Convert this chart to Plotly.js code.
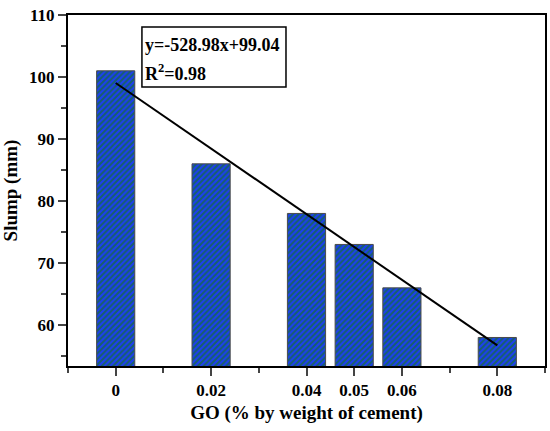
<!DOCTYPE html>
<html>
<head>
<meta charset="utf-8">
<script src="https://cdn.plot.ly/plotly-3.0.1.min.js"></script>
<style>
  body { margin: 0; background: #fff; }
  #myDiv { width: 550px; height: 431px; }
</style>
</head>
<body>
<div id="myDiv"></div>
<script>
let goContent = [0, 0.02, 0.04, 0.05, 0.06, 0.08];
let slump = [101, 86, 78, 73, 66, 58];
let tickLabels = ['0', '0.02', '0.04', '0.05', '0.06', '0.08'];
let fitSlope = -528.98;
let fitIntercept = 99.04;
let fitR2 = 0.98;

let fitX = [goContent[0], goContent[goContent.length - 1]];
let fitY = fitX.map(x => fitSlope * x + fitIntercept);

let bars = {
  x: goContent,
  y: slump,
  type: 'bar',
  width: 0.008,
  marker: {
    color: '#1d3ef4',
    line: {color: '#4a4a4a', width: 1},
    pattern: {shape: '/', bgcolor: '#1d3ef4', fgcolor: '#17606a', size: 4, solidity: 0.5}
  },
  showlegend: false
};
let fit = {
  x: fitX,
  y: fitY,
  type: 'scatter',
  mode: 'lines',
  line: {color: '#000', width: 2},
  showlegend: false
};

let serif = 'Liberation Serif, Times New Roman, serif';
let tickFont = {family: serif, size: 17, color: '#000', weight: 'bold'};
let titleFont = {family: serif, size: 19, color: '#000', weight: 'bold'};
let boxFont = {family: serif, size: 18, color: '#000', weight: 'bold'};

let layout = {
  width: 550,
  height: 431,
  margin: {l: 68, r: 5, t: 15, b: 65},
  paper_bgcolor: '#fff',
  plot_bgcolor: '#fff',
  font: {family: serif, size: 17, color: '#000', weight: 'bold'},
  xaxis: {
    range: [-0.01, 0.09],
    tickmode: 'array',
    tickvals: goContent,
    ticktext: tickLabels,
    tickfont: tickFont,
    ticks: 'outside',
    ticklen: 8,
    tickwidth: 2,
    minor: {tick0: 0, dtick: 0.01, ticks: 'outside', ticklen: 5, tickwidth: 2},
    showline: true,
    linewidth: 2,
    linecolor: '#000',
    mirror: true,
    showgrid: false,
    zeroline: false,
    title: {text: 'GO (% by weight of cement)', font: titleFont, standoff: 6}
  },
  yaxis: {
    range: [53.4, 110],
    dtick: 10,
    tickfont: tickFont,
    ticks: 'outside',
    ticklen: 8,
    tickwidth: 2,
    minor: {dtick: 5, ticks: 'outside', ticklen: 5, tickwidth: 2},
    showline: true,
    linewidth: 2,
    linecolor: '#000',
    mirror: true,
    showgrid: false,
    zeroline: false,
    title: {text: 'Slump (mm)', font: titleFont, standoff: 8}
  },
  shapes: [{
    type: 'rect', xref: 'paper', yref: 'paper',
    x0: 0.155, x1: 0.457, y0: 0.795, y1: 0.966,
    line: {color: '#000', width: 1.5}
  }],
  annotations: [
    {xref: 'paper', yref: 'paper', x: 0.158, y: 0.915, xanchor: 'left', yanchor: 'middle',
     showarrow: false, text: 'y=' + fitSlope + 'x+' + fitIntercept, font: boxFont},
    {xref: 'paper', yref: 'paper', x: 0.158, y: 0.836, xanchor: 'left', yanchor: 'middle',
     showarrow: false, text: 'R<sup>2</sup>=' + fitR2, font: boxFont}
  ]
};

Plotly.newPlot('myDiv', [bars, fit], layout, {displayModeBar: false, staticPlot: true});
</script>
</body>
</html>
